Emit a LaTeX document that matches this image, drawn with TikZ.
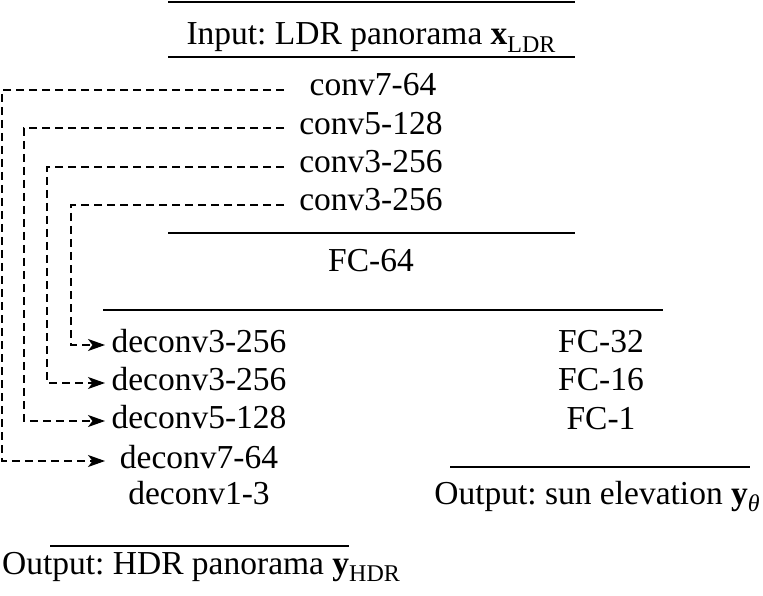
\documentclass[tikz,border=0pt]{standalone}
\usepackage{fontspec}
\setmainfont{Liberation Serif}
\usetikzlibrary{arrows.meta}
\frenchspacing
\newcommand{\subtxt}[1]{\raisebox{-0.22em}{\fontsize{24}{24}\selectfont #1}}
\begin{document}
\begin{tikzpicture}[x=1pt,y=-1pt,
  lbl/.style={anchor=base,inner sep=2pt,font=\fontsize{33.5}{36}\selectfont},
  rule/.style={line width=1.8pt},
  skip/.style={line width=1.3pt,dash pattern=on 8pt off 5pt},
  skiparrow/.style={skip,-{Stealth[length=17pt,width=12pt,inset=4.5pt]}}]
\useasboundingbox (0,0) rectangle (763,596);
% rules
\draw[rule] (168,2) -- (575,2);
\draw[rule] (168,57) -- (575,57);
\draw[rule] (168,233) -- (575,233);
\draw[rule] (103,310) -- (663,310);
\draw[rule] (450,467) -- (750,467);
\draw[rule] (50,546) -- (349,546);
% texts
\node[lbl] (inp) at (371,45) {Input: LDR panorama \textbf{x}\subtxt{LDR}};
\node[lbl] (c1) at (373,96) {conv7-64};
\node[lbl] (c2) at (371,135) {conv5-128};
\node[lbl] (c3) at (371,173) {conv3-256};
\node[lbl] (c4) at (371,211) {conv3-256};
\node[lbl] (fc64) at (371,271) {FC-64};
\node[lbl] (d1) at (199,352) {deconv3-256};
\node[lbl] (d2) at (199,390) {deconv3-256};
\node[lbl] (d3) at (199,428) {deconv5-128};
\node[lbl] (d4) at (199,468) {deconv7-64};
\node[lbl] (d5) at (199,504) {deconv1-3};
\node[lbl] (f1) at (601,352) {FC-32};
\node[lbl] (f2) at (601,390) {FC-16};
\node[lbl] (f3) at (601,429) {FC-1};
\node[lbl] (outs) at (597,504) {Output: sun elevation \textbf{y}\subtxt{\textit{θ}}};
\node[lbl] (outh) at (201,574) {Output: HDR panorama \textbf{y}\subtxt{HDR}};
% skip connections
\coordinate (sx) at (284,0);
\coordinate (ax) at (105,0);
\coordinate (k1) at (2,0);
\coordinate (k2) at (24,0);
\coordinate (k3) at (47,0);
\coordinate (k4) at (71,0);
\draw[skiparrow] ([yshift=6pt]c1.base -| sx) -| ([yshift=6pt]k1 |- c1.base) |- ([yshift=7pt]d4.base -| ax);
\draw[skiparrow] ([yshift=7pt]c2.base -| sx) -| ([yshift=7pt]k2 |- c2.base) |- ([yshift=7pt]d3.base -| ax);
\draw[skiparrow] ([yshift=6pt]c3.base -| sx) -| ([yshift=6pt]k3 |- c3.base) |- ([yshift=7pt]d2.base -| ax);
\draw[skiparrow] ([yshift=6pt]c4.base -| sx) -| ([yshift=6pt]k4 |- c4.base) |- ([yshift=7pt]d1.base -| ax);
\end{tikzpicture}
\end{document}
